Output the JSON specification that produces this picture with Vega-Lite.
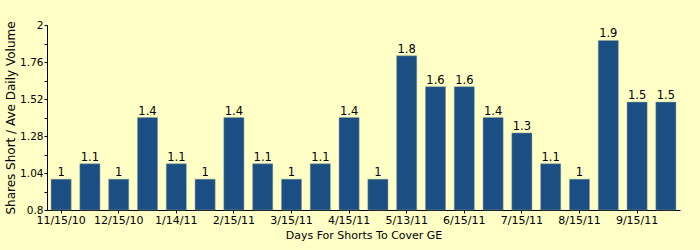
{
  "$schema": "https://vega.github.io/schema/vega-lite/v6.json",
  "autosize": {"type": "none"},
  "width": 633,
  "height": 185,
  "padding": {"left": 47, "top": 25, "right": 20, "bottom": 40},
  "background": "#ffffc6",
  "config": {
    "view": {"stroke": null},
    "font": "DejaVu Sans",
    "axis": {"grid": false, "domainColor": "#000000", "tickColor": "#000000", "labelColor": "#000000", "titleColor": "#000000", "labelFont": "DejaVu Sans", "titleFont": "DejaVu Sans", "titleFontWeight": "normal"}
  },
  "data": {"values": [
    {"date": "11/15/10", "v": 1.0, "lab": "1"},
    {"date": "11/30/10", "v": 1.1, "lab": "1.1"},
    {"date": "12/15/10", "v": 1.0, "lab": "1"},
    {"date": "12/31/10", "v": 1.4, "lab": "1.4"},
    {"date": "1/14/11", "v": 1.1, "lab": "1.1"},
    {"date": "1/31/11", "v": 1.0, "lab": "1"},
    {"date": "2/15/11", "v": 1.4, "lab": "1.4"},
    {"date": "2/28/11", "v": 1.1, "lab": "1.1"},
    {"date": "3/15/11", "v": 1.0, "lab": "1"},
    {"date": "3/31/11", "v": 1.1, "lab": "1.1"},
    {"date": "4/15/11", "v": 1.4, "lab": "1.4"},
    {"date": "4/29/11", "v": 1.0, "lab": "1"},
    {"date": "5/13/11", "v": 1.8, "lab": "1.8"},
    {"date": "5/31/11", "v": 1.6, "lab": "1.6"},
    {"date": "6/15/11", "v": 1.6, "lab": "1.6"},
    {"date": "6/30/11", "v": 1.4, "lab": "1.4"},
    {"date": "7/15/11", "v": 1.3, "lab": "1.3"},
    {"date": "7/29/11", "v": 1.1, "lab": "1.1"},
    {"date": "8/15/11", "v": 1.0, "lab": "1"},
    {"date": "8/31/11", "v": 1.9, "lab": "1.9"},
    {"date": "9/15/11", "v": 1.5, "lab": "1.5"},
    {"date": "9/30/11", "v": 1.5, "lab": "1.5"}
  ]},
  "encoding": {
    "x": {
      "field": "date", "type": "nominal", "sort": null,
      "scale": {"paddingInner": 0.3, "paddingOuter": 0.14},
      "axis": {
        "title": "Days For Shorts To Cover GE", "titleFontSize": 11, "titlePadding": 4,
        "labelAngle": 0, "labelFontSize": 11, "labelPadding": 1, "tickSize": 3,
        "values": ["11/15/10", "12/15/10", "1/14/11", "2/15/11", "3/15/11", "4/15/11", "5/13/11", "6/15/11", "7/15/11", "8/15/11", "9/15/11"]
      }
    },
    "y": {
      "field": "v", "type": "quantitative",
      "scale": {"domain": [0.8, 2], "zero": false, "nice": false},
      "axis": {
        "title": "Shares Short / Ave Daily Volume", "titleFontSize": 12, "titlePadding": 2,
        "values": [0.8, 0.92, 1.04, 1.16, 1.28, 1.4, 1.52, 1.64, 1.76, 1.88, 2],
        "format": ".2~f",
        "labelExpr": "round(datum.value*100) % 24 == 8 ? datum.label : ''",
        "labelFontSize": 10.5, "tickSize": 3, "labelPadding": 1
      }
    }
  },
  "layer": [
    {
      "mark": {"type": "bar", "color": "#1b4e82", "stroke": "#8fa3a0", "strokeWidth": 0.5},
      "encoding": {"y2": {"datum": 0.8}}
    },
    {
      "mark": {"type": "text", "dy": -6, "fontSize": 11.5, "color": "#000000", "font": "DejaVu Sans"},
      "encoding": {"text": {"field": "lab"}}
    }
  ]
}
